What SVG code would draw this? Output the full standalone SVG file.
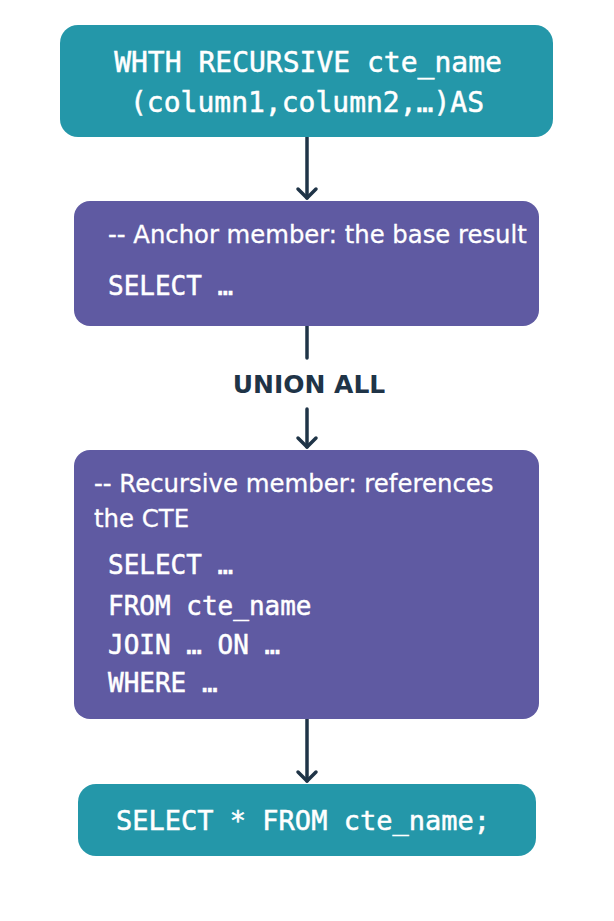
<svg xmlns="http://www.w3.org/2000/svg" width="614" height="921" viewBox="0 0 614 921">
<style>
.teal{fill:#2497A9}
.purple{fill:#5F5AA2}
.mono{font-family:"DejaVu Sans Mono","Liberation Mono",monospace;fill:#fff;stroke:#fff;stroke-width:0.5}
.sans{font-family:"DejaVu Sans","Noto Sans",sans-serif;fill:#fff;stroke:#fff;stroke-width:0.3}
.conn{stroke:#1F3447;stroke-width:3.5;fill:none;stroke-linecap:round}
.lbl{font-family:"DejaVu Sans","Noto Sans",sans-serif;font-weight:bold;fill:#1F3447}
</style>
<defs>
<marker id="arr" markerUnits="userSpaceOnUse" markerWidth="24" markerHeight="24" refX="12" refY="12" orient="auto" viewBox="0 0 24 24">
<path d="M3 3 L12 12 L3 21" fill="none" stroke="#1F3447" stroke-width="3.5" stroke-linecap="round" stroke-linejoin="round"/>
</marker>
</defs>
<rect width="614" height="921" fill="#fff"/>
<g id="connectors">
<line class="conn" x1="307" y1="137" x2="307" y2="198" marker-end="url(#arr)"/>
<line class="conn" x1="307" y1="326" x2="307" y2="358"/>
<line class="conn" x1="307" y1="409" x2="307" y2="447" marker-end="url(#arr)"/>
<line class="conn" x1="307" y1="719" x2="307" y2="781" marker-end="url(#arr)"/>
<text class="lbl" x="309" y="393" font-size="25" text-anchor="middle">UNION ALL</text>
</g>
<g id="node-with">
<rect class="teal" x="60" y="25" width="493" height="112" rx="18"/>
<text class="mono" x="308" y="72" font-size="28" text-anchor="middle">WHTH RECURSIVE cte_name</text>
<text class="mono" x="307" y="112" font-size="28" text-anchor="middle">(column1,column2,…)AS</text>
</g>
<g id="node-anchor">
<rect class="purple" x="74" y="201" width="465" height="125" rx="16"/>
<text class="sans" x="108" y="243" font-size="24.3">-- Anchor member: the base result</text>
<text class="mono" x="108" y="295" font-size="26">SELECT …</text>
</g>
<g id="node-recursive">
<rect class="purple" x="74" y="450" width="465" height="269" rx="16"/>
<text class="sans" x="94" y="492" font-size="24.4">-- Recursive member: references</text>
<text class="sans" x="94" y="527" font-size="24.4">the CTE</text>
<text class="mono" x="108" y="574" font-size="26">SELECT …</text>
<text class="mono" x="108" y="615" font-size="26">FROM cte_name</text>
<text class="mono" x="108" y="654" font-size="26">JOIN … ON …</text>
<text class="mono" x="108" y="692" font-size="26">WHERE …</text>
</g>
<g id="node-final">
<rect class="teal" x="78" y="784" width="458" height="72" rx="18"/>
<text class="mono" x="303" y="830" font-size="27" text-anchor="middle">SELECT * FROM cte_name;</text>
</g>
</svg>
